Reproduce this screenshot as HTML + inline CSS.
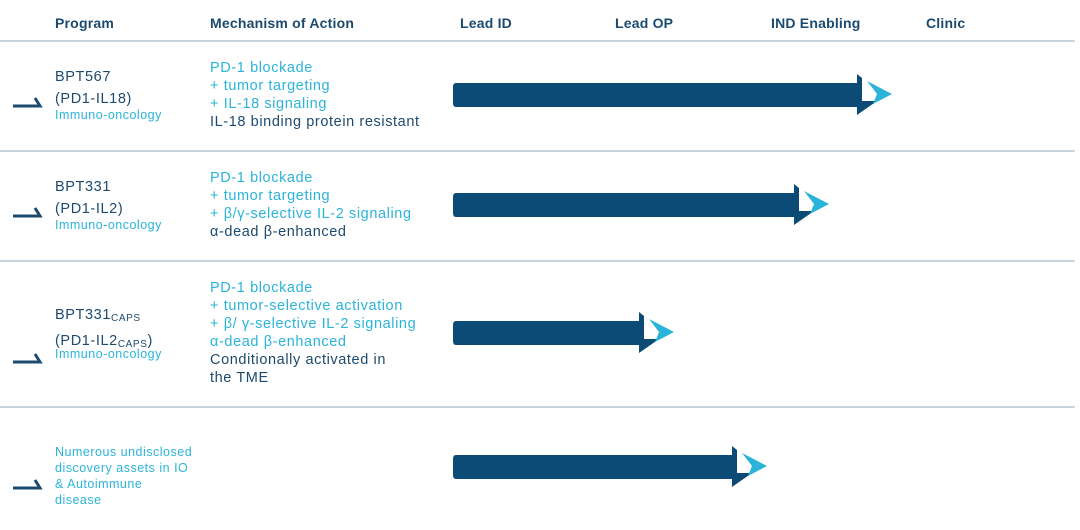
<!DOCTYPE html>
<html><head><meta charset="utf-8"><style>
body{margin:0;width:1080px;height:530px;background:#fff;position:relative;overflow:hidden;font-family:"Liberation Sans",sans-serif;}
.t{position:absolute;white-space:nowrap;font-size:14.5px;line-height:18px;letter-spacing:0.6px;}
.h{color:#1b4a70;font-size:14px;font-weight:bold;letter-spacing:0.2px;}
.d{color:#1d4a6f;}
.c{color:#2bb4d9;}
.s{font-size:12.5px;letter-spacing:0.5px;}
sub{font-size:10px;vertical-align:-2px;}
</style></head><body>
<div class="t h" style="left:55px;top:14px">Program</div>
<div class="t h" style="left:210px;top:14px">Mechanism of Action</div>
<div class="t h" style="left:460px;top:14px">Lead ID</div>
<div class="t h" style="left:615px;top:14px">Lead OP</div>
<div class="t h" style="left:771px;top:14px">IND Enabling</div>
<div class="t h" style="left:926px;top:14px">Clinic</div>

<svg width="1080" height="530" style="position:absolute;left:0;top:0">
<g fill="#c8d4de"><rect x="0" y="40" width="1075" height="2"/><rect x="0" y="150" width="1075" height="2"/><rect x="0" y="260" width="1075" height="2"/><rect x="0" y="406" width="1075" height="2"/></g>
<g fill="none" stroke="#1d4a6f" stroke-width="3"><path d="M13 106H40L35 98"/><path d="M13 216H40L35 208"/><path d="M13 362H40L35 354"/><path d="M13 488H40L35 480"/></g>
<g transform="translate(858,95)"><path d="M-402 -12H0V12H-402Q-405 12 -405 8V-8Q-405 -12 -402 -12Z" fill="#0d4b77"/><polygon points="-1,-21 4,-17 4,6 19,6 -1,20" fill="#0d4b77"/><polygon points="9,-14 34,-1 15,9 19,-1" fill="#2bb4d9"/></g>
<g transform="translate(795,205)"><path d="M-339 -12H0V12H-339Q-342 12 -342 8V-8Q-342 -12 -339 -12Z" fill="#0d4b77"/><polygon points="-1,-21 4,-17 4,6 19,6 -1,20" fill="#0d4b77"/><polygon points="9,-14 34,-1 15,9 19,-1" fill="#2bb4d9"/></g>
<g transform="translate(640,333)"><path d="M-184 -12H0V12H-184Q-187 12 -187 8V-8Q-187 -12 -184 -12Z" fill="#0d4b77"/><polygon points="-1,-21 4,-17 4,6 19,6 -1,20" fill="#0d4b77"/><polygon points="9,-14 34,-1 15,9 19,-1" fill="#2bb4d9"/></g>
<g transform="translate(733,467)"><path d="M-277 -12H0V12H-277Q-280 12 -280 8V-8Q-280 -12 -277 -12Z" fill="#0d4b77"/><polygon points="-1,-21 4,-17 4,6 19,6 -1,20" fill="#0d4b77"/><polygon points="9,-14 34,-1 15,9 19,-1" fill="#2bb4d9"/></g>
</svg>

<div class="t d" style="left:55px;top:66px;line-height:22px">BPT567<br>(PD1-IL18)</div>
<div class="t c s" style="left:55px;top:106px">Immuno-oncology</div>
<div class="t" style="left:210px;top:59px"><span class="c">PD-1 blockade<br>+ tumor targeting<br>+ IL-18 signaling</span><br><span class="d">IL-18 binding protein resistant</span></div>

<div class="t d" style="left:55px;top:176px;line-height:22px">BPT331<br>(PD1-IL2)</div>
<div class="t c s" style="left:55px;top:216px">Immuno-oncology</div>
<div class="t" style="left:210px;top:169px"><span class="c">PD-1 blockade<br>+ tumor targeting<br>+ β/γ-selective IL-2 signaling</span><br><span class="d">α-dead β-enhanced</span></div>

<div class="t d" style="left:55px;top:304px;line-height:22px">BPT331<sub>CAPS</sub><br>(PD1-IL2<sub>CAPS</sub>)</div>
<div class="t c s" style="left:55px;top:345px">Immuno-oncology</div>
<div class="t" style="left:210px;top:279px"><span class="c">PD-1 blockade<br>+ tumor-selective activation<br>+ β/ γ-selective IL-2 signaling<br>α-dead β-enhanced</span><br><span class="d">Conditionally activated in<br>the TME</span></div>

<div class="t c s" style="left:55px;top:444px;line-height:16px">Numerous undisclosed<br>discovery assets in IO<br>&amp; Autoimmune<br>disease</div>
</body></html>
